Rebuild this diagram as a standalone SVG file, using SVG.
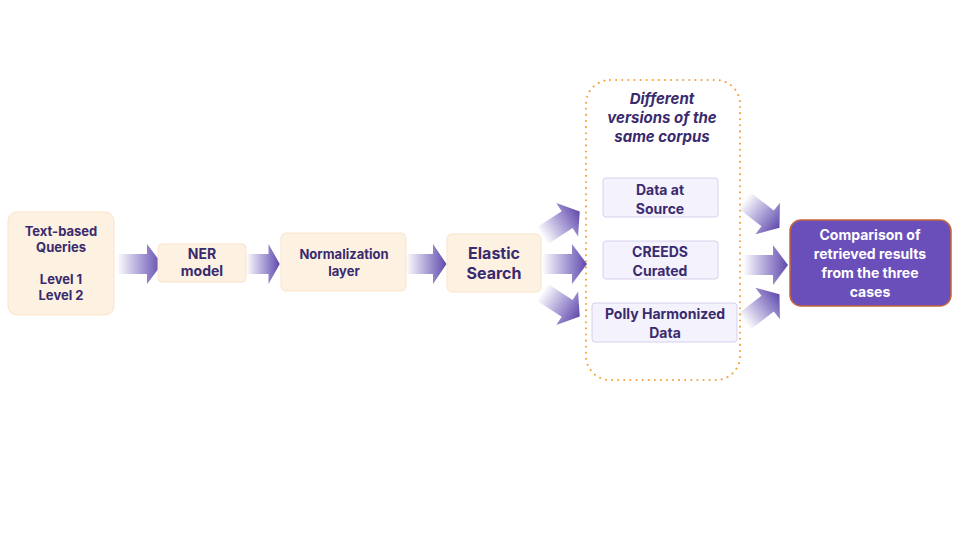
<svg xmlns="http://www.w3.org/2000/svg" width="960" height="540" viewBox="0 0 960 540">
<style>
text{font-family:Inter,"Open Sans","Liberation Sans",sans-serif;font-weight:700;fill:#3a2a6e;text-anchor:middle}
.b{fill:#fdf1e2;stroke:#fae3c9;stroke-width:1}
.c{fill:#f4f2fd;stroke:#d6d0ee;stroke-width:1}
</style>
<defs>
<linearGradient id="g" x1="0" x2="1" y1="0" y2="0">
<stop offset="0" stop-color="#6a55b5" stop-opacity="0"/>
<stop offset="0.7" stop-color="#6a55b5" stop-opacity="0.75"/>
<stop offset="1" stop-color="#5e48aa"/>
</linearGradient>
<path id="ar" d="M0,-10 L30,-10 L30,-20 L45,0 L30,20 L30,10 L0,10 Z" fill="url(#g)"/>
</defs>
<g id="connectors">
<use href="#ar" transform="translate(117,264)"/>
<use href="#ar" transform="translate(246,264) scale(0.75,1)"/>
<use href="#ar" transform="translate(406,264) scale(0.9,1)"/>
<use href="#ar" transform="translate(542,264)"/>
<use href="#ar" transform="translate(542,236) rotate(-33)"/>
<use href="#ar" transform="translate(542,292) rotate(33)"/>
<use href="#ar" transform="translate(744,200) rotate(38)"/>
<use href="#ar" transform="translate(743,265)"/>
<use href="#ar" transform="translate(744,322) rotate(-38)"/>
</g>
<g id="queries"><rect class="b" x="8" y="212" width="106" height="103" rx="9"/>
<text font-size="13"><tspan x="61" y="236">Text-based</tspan><tspan x="61" y="252">Queries</tspan><tspan x="61" y="284">Level 1</tspan><tspan x="61" y="300">Level 2</tspan></text></g>
<g id="ner"><rect class="b" x="158" y="244" width="88" height="38" rx="4"/>
<text font-size="14"><tspan x="202" y="259">NER</tspan><tspan x="202" y="276">model</tspan></text></g>
<g id="norm"><rect class="b" x="281" y="233" width="125" height="58" rx="5"/>
<text font-size="13"><tspan x="344" y="259">Normalization</tspan><tspan x="344" y="276">layer</tspan></text></g>
<g id="elastic"><rect class="b" x="447" y="234" width="94" height="58" rx="5"/>
<text font-size="16"><tspan x="494" y="259">Elastic</tspan><tspan x="494" y="279">Search</tspan></text></g>
<g id="versions"><rect x="586" y="80" width="154" height="300" rx="24" fill="none" stroke="#f3a23e" stroke-width="2" stroke-dasharray="0.1 6" stroke-linecap="round"/>
<text font-size="15" font-style="italic"><tspan x="662" y="104">Different</tspan><tspan x="662" y="123">versions of the</tspan><tspan x="662" y="142">same corpus</tspan></text></g>
<g id="source"><rect class="c" x="603" y="178" width="115" height="39" rx="3"/>
<text font-size="14"><tspan x="660" y="195">Data at</tspan><tspan x="660" y="214">Source</tspan></text></g>
<g id="creeds"><rect class="c" x="603" y="241" width="115" height="38" rx="3"/>
<text font-size="14"><tspan x="660" y="257">CREEDS</tspan><tspan x="660" y="276">Curated</tspan></text></g>
<g id="polly"><rect class="c" x="592" y="303" width="145" height="39" rx="3"/>
<text font-size="14"><tspan x="665" y="319">Polly Harmonized</tspan><tspan x="665" y="338">Data</tspan></text></g>
<g id="comparison"><rect x="790" y="220" width="161" height="86" rx="11" fill="#6a4fbb" stroke="#c4663f" stroke-width="1.5"/>
<text font-size="14" style="fill:#fff"><tspan x="870" y="240">Comparison of</tspan><tspan x="870" y="259">retrieved results</tspan><tspan x="870" y="278">from the three</tspan><tspan x="870" y="297">cases</tspan></text></g>
</svg>
